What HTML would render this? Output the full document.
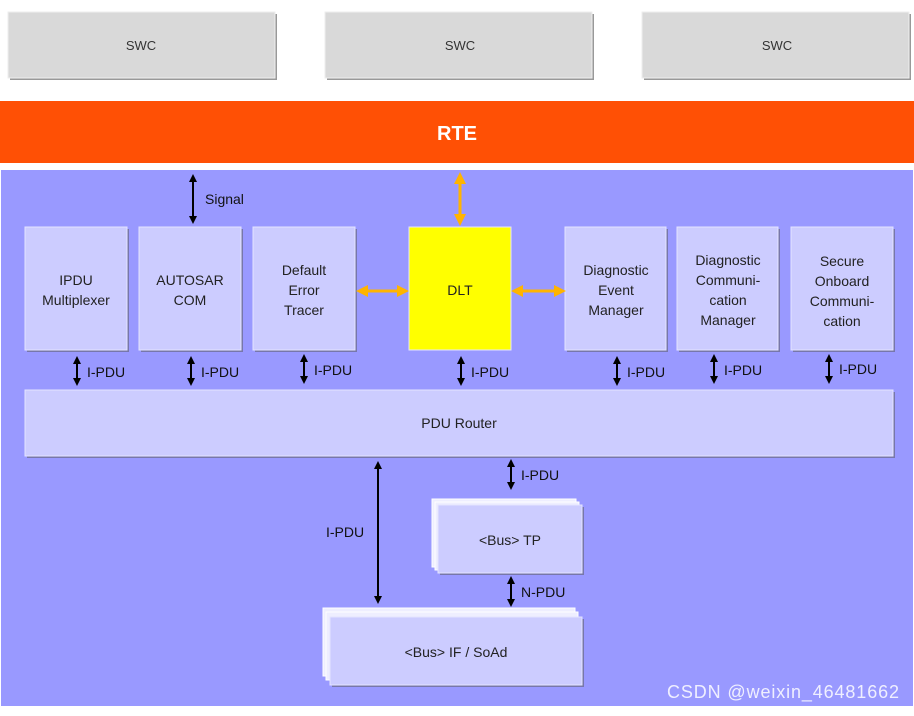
<!DOCTYPE html>
<html><head><style>body{margin:0;background:#fff}</style></head><body>
<svg width="914" height="711" xmlns="http://www.w3.org/2000/svg" font-family="Liberation Sans, sans-serif">
<defs>
<marker id="ah" markerWidth="8" markerHeight="8" refX="4" refY="4" orient="auto-start-reverse" markerUnits="userSpaceOnUse"><path d="M0,0 L8,4 L0,8 z" fill="#000"/></marker>
<marker id="oh" markerWidth="12" markerHeight="12" refX="6" refY="6" orient="auto-start-reverse" markerUnits="userSpaceOnUse"><path d="M0,0 L12,6 L0,12 z" fill="#ffb400"/></marker>
</defs>
<g font-size="13" text-anchor="middle" fill="#333">
<rect x="10" y="14" width="267" height="66" fill="#999"/><rect x="8" y="12" width="267" height="66" fill="#d9d9d9" stroke="#eee"/><text x="141" y="50">SWC</text>
<rect x="327" y="14" width="267" height="66" fill="#999"/><rect x="325" y="12" width="267" height="66" fill="#d9d9d9" stroke="#eee"/><text x="460" y="50">SWC</text>
<rect x="644" y="14" width="267" height="66" fill="#999"/><rect x="642" y="12" width="267" height="66" fill="#d9d9d9" stroke="#eee"/><text x="777" y="50">SWC</text>
</g>
<rect x="0" y="101" width="914" height="62" fill="#ff5005"/>
<text x="457" y="140" font-size="20" font-weight="bold" fill="#fff" text-anchor="middle">RTE</text>
<rect x="1" y="170" width="912" height="536" fill="#9999ff"/>
<g font-size="14" text-anchor="middle" fill="#222">
<g fill="#7777aa">
<rect x="27" y="229" width="102" height="123"/><rect x="141" y="229" width="102" height="123"/><rect x="255" y="229" width="102" height="123"/>
<rect x="567" y="229" width="101" height="123"/><rect x="679" y="229" width="101" height="123"/><rect x="793" y="229" width="102" height="123"/>
<rect x="27" y="392" width="868" height="66"/>
</g>
<g fill="#ccccff" stroke="#e4e4ff">
<rect x="25" y="227" width="102" height="123"/><rect x="139" y="227" width="102" height="123"/><rect x="253" y="227" width="102" height="123"/>
<rect x="565" y="227" width="101" height="123"/><rect x="677" y="227" width="101" height="123"/><rect x="791" y="227" width="102" height="123"/>
<rect x="25" y="390" width="868" height="66"/>
</g>
<rect x="409" y="227" width="102" height="123" fill="#ffff00" stroke="#e4e4ff"/>
<text x="76" y="285">IPDU</text><text x="76" y="305">Multiplexer</text>
<text x="190" y="285">AUTOSAR</text><text x="190" y="305">COM</text>
<text x="304" y="275">Default</text><text x="304" y="295">Error</text><text x="304" y="315">Tracer</text>
<text x="460" y="295">DLT</text>
<text x="616" y="275">Diagnostic</text><text x="616" y="295">Event</text><text x="616" y="315">Manager</text>
<text x="728" y="265">Diagnostic</text><text x="728" y="285">Communi-</text><text x="728" y="305">cation</text><text x="728" y="325">Manager</text>
<text x="842" y="266">Secure</text><text x="842" y="286">Onboard</text><text x="842" y="306">Communi-</text><text x="842" y="326">cation</text>
<text x="459" y="428">PDU Router</text>
<g fill="#eeeeff" stroke="#fff"><rect x="432" y="499" width="144" height="68"/><rect x="435" y="502" width="144" height="68"/></g>
<rect x="440" y="507" width="144" height="68" fill="#7777aa"/>
<rect x="438" y="505" width="144" height="68" fill="#ccccff" stroke="#e4e4ff"/>
<text x="510" y="545">&lt;Bus&gt; TP</text>
<g fill="#eeeeff" stroke="#fff"><rect x="323" y="608" width="252" height="68"/><rect x="326" y="612" width="252" height="68"/></g>
<rect x="332" y="619" width="252" height="68" fill="#7777aa"/>
<rect x="330" y="617" width="252" height="68" fill="#ccccff" stroke="#e4e4ff"/>
<text x="456" y="657">&lt;Bus&gt; IF / SoAd</text>
</g>
<g stroke="#000" stroke-width="2" marker-start="url(#ah)" marker-end="url(#ah)">
<line x1="193" y1="178" x2="193" y2="220"/>
<line x1="77" y1="360" x2="77" y2="382"/><line x1="191" y1="360" x2="191" y2="382"/><line x1="304" y1="358" x2="304" y2="380"/>
<line x1="461" y1="360" x2="461" y2="382"/><line x1="617" y1="360" x2="617" y2="382"/><line x1="714" y1="358" x2="714" y2="380"/><line x1="829" y1="358" x2="829" y2="380"/>
<line x1="378" y1="465" x2="378" y2="600"/>
<line x1="511" y1="463" x2="511" y2="486"/><line x1="511" y1="580" x2="511" y2="603"/>
</g>
<g stroke="#ffb400" stroke-width="3" marker-start="url(#oh)" marker-end="url(#oh)">
<line x1="460" y1="178" x2="460" y2="220"/>
<line x1="362" y1="291" x2="403" y2="291"/><line x1="517" y1="291" x2="560" y2="291"/>
</g>
<g font-size="14" fill="#111">
<text x="205" y="204">Signal</text>
<text x="87" y="377">I-PDU</text><text x="201" y="377">I-PDU</text><text x="314" y="375">I-PDU</text>
<text x="471" y="377">I-PDU</text><text x="627" y="377">I-PDU</text><text x="724" y="375">I-PDU</text><text x="839" y="374">I-PDU</text>
<text x="326" y="537">I-PDU</text><text x="521" y="480">I-PDU</text><text x="521" y="597">N-PDU</text>
</g>
<text x="667" y="698" font-size="18" fill="#fff" opacity="0.85" textLength="232">CSDN @weixin_46481662</text>
</svg>
</body></html>
